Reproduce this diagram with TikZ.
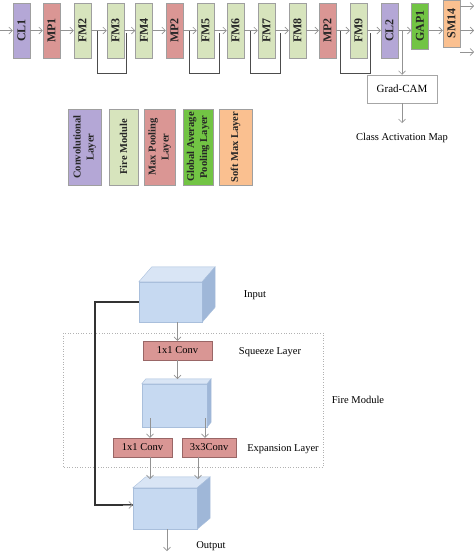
\documentclass[tikz,border=0pt]{standalone}
\usepackage{fontspec}
\setmainfont{Liberation Serif}
\usepackage{graphicx}
\usetikzlibrary{arrows.meta}
\definecolor{clc}{HTML}{B4A7D6}
\definecolor{mpc}{HTML}{DA9694}
\definecolor{fmc}{HTML}{D7E4BD}
\definecolor{gapc}{HTML}{72C444}
\definecolor{smc}{HTML}{FAC090}
\definecolor{cubefr}{HTML}{C6D9F1}
\definecolor{cubetp}{HTML}{D9E5F5}
\definecolor{cubesd}{HTML}{9FB7D8}
\definecolor{cubeed}{HTML}{A9BFDC}
\definecolor{convc}{HTML}{D99694}
\newcommand\mycube[3]{%
  \filldraw[fill=cubetp,draw=cubeed,line width=0.4pt] (#1.north west) -- ++(#2,-#3) -- ([shift={(#2,-#3)}]#1.north east) -- (#1.north east) -- cycle;
  \filldraw[fill=cubesd,draw=cubeed,line width=0.4pt] (#1.north east) -- ++(#2,-#3) -- ([shift={(#2,-#3)}]#1.south east) -- (#1.south east) -- cycle;}
\begin{document}
\begin{tikzpicture}[x=1pt,y=-1pt,
  topbox/.style={draw=gray!75, line width=0.5pt, minimum width=17pt, minimum height=55pt, inner sep=0pt, font=\fontsize{12}{13}\selectfont\bfseries, text=black!85},
  legbox/.style={draw=gray!75, line width=0.5pt, minimum height=76pt, inner sep=0pt, font=\fontsize{10.5}{13}\selectfont\bfseries, text=black!85},
  arr/.style={draw=gray!85, line width=0.6pt, -{Straight Barb[length=3.5pt,width=7pt]}},
  skipline/.style={draw=black!70, line width=0.9pt},
  bigskip/.style={draw=black!80, line width=1.1pt},
  plainbox/.style={draw=gray!70, line width=0.5pt, inner sep=0pt, font=\fontsize{11}{12}\selectfont},
  convbox/.style={draw=gray!80!red, fill=convc, line width=0.5pt, minimum height=19pt, inner sep=0pt, font=\fontsize{10.5}{12}\selectfont},
  cubefront/.style={draw=cubeed, fill=cubefr, line width=0.4pt, inner sep=0pt},
  lbl/.style={font=\fontsize{10.5}{12}\selectfont, inner sep=0pt}
]
\useasboundingbox (0,0) rectangle (474,552);

% ---------- top row ----------
\node[topbox, fill=clc] (cl1) at (21.5,30.5) {\rotatebox{90}{CL1}};
\node[topbox, fill=mpc] (mp1) at (51.5,30.5) {\rotatebox{90}{MP1}};
\node[topbox, fill=fmc] (fm2) at (82.5,30.5) {\rotatebox{90}{FM2}};
\node[topbox, fill=fmc] (fm3) at (115.5,30.5) {\rotatebox{90}{FM3}};
\node[topbox, fill=fmc] (fm4) at (144,30.5) {\rotatebox{90}{FM4}};
\node[topbox, fill=mpc] (mp2) at (174.5,30.5) {\rotatebox{90}{MP2}};
\node[topbox, fill=fmc] (fm5) at (205.5,30.5) {\rotatebox{90}{FM5}};
\node[topbox, fill=fmc] (fm6) at (235.5,30.5) {\rotatebox{90}{FM6}};
\node[topbox, fill=fmc] (fm7) at (266.5,30.5) {\rotatebox{90}{FM7}};
\node[topbox, fill=fmc] (fm8) at (297.5,30.5) {\rotatebox{90}{FM8}};
\node[topbox, fill=mpc] (mp2b) at (327.5,30.5) {\rotatebox{90}{MP2}};
\node[topbox, fill=fmc] (fm9) at (358.5,30.5) {\rotatebox{90}{FM9}};
\node[topbox, fill=clc] (cl2) at (389.5,30.5) {\rotatebox{90}{CL2}};
\node[topbox, fill=gapc, minimum height=46pt] (gap1) at (420,26) {\rotatebox{90}{GAP1}};
\node[topbox, fill=smc, minimum height=47pt] (sm14) at (451.5,23.5) {\rotatebox{90}{SM14}};

\coordinate (in) at (0,30.5);
\draw[arr] (in) -- (cl1);
\foreach \a/\b in {cl1/mp1,mp1/fm2,fm2/fm3,fm3/fm4,fm4/mp2,mp2/fm5,fm5/fm6,fm6/fm7,fm7/fm8,fm8/mp2b,mp2b/fm9,fm9/cl2}
  \draw[arr] (\a) -- (\b);
\draw[arr] (cl2.east) -- (cl2.east -| gap1.west);
\draw[arr] (gap1.east |- cl2.east) -- (cl2.east -| sm14.west);

\coordinate (o1) at (474,6);
\coordinate (o2) at (474,30.5);
\coordinate (o3) at (474,52);
\draw[arr] (sm14.east |- o1) -- (o1);
\draw[arr] (sm14.east |- o2) -- (o2);
\draw[arr] (sm14.east |- o3) -- (o3);

% skip connections
\foreach \xa/\xb in {97/126,189/219,250/280,340/370}{
  \coordinate (sa) at (\xa,30.5);
  \coordinate (sb) at (\xb,33);
  \draw[skipline] (sa) -- ++(0,42.5) -| (sb);
}

% Grad-CAM
\coordinate (gsrc) at (402,30.5);
\node[plainbox, minimum width=70pt, minimum height=28pt] (gc) at (402,89) {Grad-CAM};
\draw[arr] (gsrc) -- (gc.north);
\node[lbl] (cam) at (402,138) {Class Activation Map};
\coordinate (camend) at (402,123);
\draw[arr] (gc.south) -- (camend);

% ---------- legend ----------
\node[legbox, fill=clc, minimum width=33pt] (lg1) at (84.5,147) {\rotatebox{90}{\begin{tabular}{@{}c@{}}Convolutional\\Layer\end{tabular}}};
\node[legbox, fill=fmc, minimum width=29pt] (lg2) at (123.5,147) {\rotatebox{90}{Fire Module}};
\node[legbox, fill=mpc, minimum width=31pt] (lg3) at (159.5,147) {\rotatebox{90}{\begin{tabular}{@{}c@{}}Max Pooling\\Layer\end{tabular}}};
\node[legbox, fill=gapc, minimum width=30pt] (lg4) at (198,147) {\rotatebox{90}{\begin{tabular}{@{}c@{}}Global Average\\Pooling Layer\end{tabular}}};
\node[legbox, fill=smc, minimum width=33pt] (lg5) at (235.5,147) {\rotatebox{90}{Soft Max Layer}};

% ---------- fire module ----------
\draw[draw=gray!60, dotted, line width=0.6pt] (63,333) rectangle (323,467);

\node[cubefront, minimum width=63pt, minimum height=40pt] (inp) at (170.5,302) {};
\mycube{inp}{13}{15}
\node[lbl] (tin) at (255,295) {Input};

\node[convbox, minimum width=69pt] (sq) at (177.5,350.5) {1x1 Conv};
\node[lbl] (tsq) at (270,352) {Squeeze Layer};
\draw[arr] (inp.south -| sq) -- (sq.north);

\node[cubefront, minimum width=65pt, minimum height=43pt] (mid) at (174.5,405.5) {};
\mycube{mid}{4}{5}
\coordinate (midtop) at (177.5,379);
\draw[arr] (sq.south) -- (midtop);

\node[lbl] (tfm) at (358,400) {Fire Module};

\node[convbox, minimum width=59pt] (e1) at (142.5,447.5) {1x1 Conv};
\node[convbox, minimum width=54pt] (e2) at (209,447.5) {3x3Conv};
\node[lbl] (tex) at (283,449) {Expansion Layer};
\coordinate (m1) at (150,418);
\coordinate (m2) at (205,418);
\draw[arr] (m1) -- (m1 |- e1.north);
\draw[arr] (m2) -- (m2 |- e2.north);

\node[cubefront, minimum width=64pt, minimum height=41pt] (out) at (165,508.5) {};
\mycube{out}{13}{11}
\coordinate (q1) at (150,479);
\coordinate (q2) at (198,479);
\draw[arr] (q1 |- e1.south) -- (q1);
\draw[arr] (q2 |- e2.south) -- (q2);

\coordinate (k) at (95,505);
\draw[bigskip] (inp.west) -| (k) -- (out.west |- k);
\draw[arr] ([xshift=-10pt]out.west |- k) -- (out.west |- k);

\coordinate (oend) at (167,551);
\draw[arr] (out.south -| oend) -- (oend);
\node[lbl] (tout) at (211,546) {Output};
\end{tikzpicture}
\end{document}
